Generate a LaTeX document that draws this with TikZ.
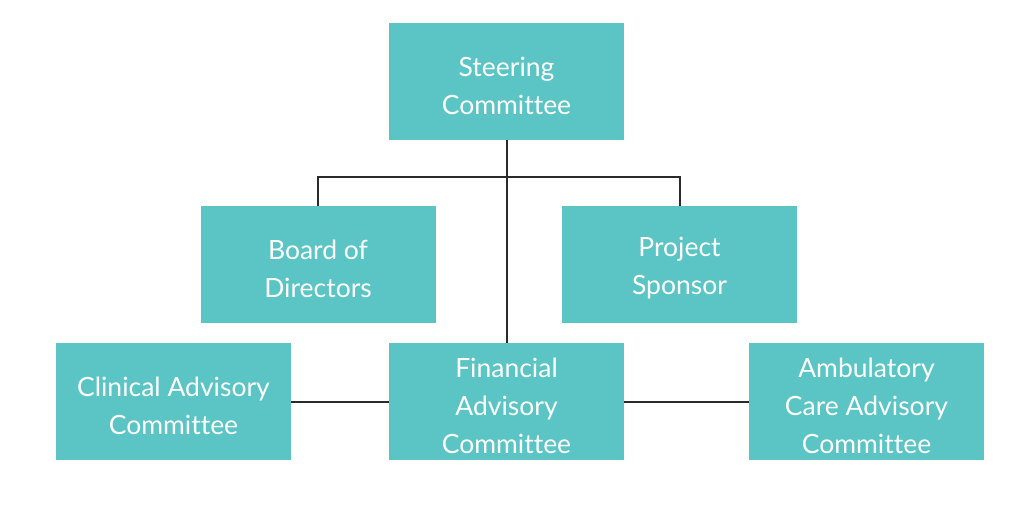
\documentclass[tikz,border=0pt]{standalone}
\usepackage{fontspec}
\setmainfont{Lato}[Ligatures=NoCommon]
\definecolor{teal}{HTML}{5BC5C6}
\definecolor{linec}{HTML}{2A2A2A}
\begin{document}
\begin{tikzpicture}[x=1pt,y=-1pt,
  box/.style={fill=teal,draw=none,minimum width=235pt,minimum height=117pt,inner sep=0pt},
  lbl/.style={text=white,align=center,inner sep=0pt,font=\fontsize{26.5}{38}\selectfont},
  conn/.style={draw=linec,line width=2pt}]
\useasboundingbox[fill=white] (0,0) rectangle (1024,525);
\node[box] (steer) at (506.5,81.5) {};
\node[box] (board) at (318,264.5) {};
\node[box] (spons) at (679.5,264.5) {};
\node[box] (clin) at (173.5,401.5) {};
\node[box] (fin) at (506.5,401.5) {};
\node[box] (amb) at (866.5,401.5) {};
\node[lbl] (tsteer) at ([yshift=-4pt]steer.center) {Steering\\Committee};
\node[lbl] (tboard) at ([yshift=-4pt]board.center) {Board of\\Directors};
\node[lbl] (tspons) at ([yshift=-4pt]spons.center) {Project\\Sponsor};
\node[lbl] (tclin) at ([yshift=-4pt]clin.center) {Clinical Advisory\\Committee};
\node[lbl] (tfin) at ([yshift=-4pt]fin.center) {Financial\\Advisory\\Committee};
\node[lbl] (tamb) at ([yshift=-4pt]amb.center) {Ambulatory\\Care Advisory\\Committee};
\coordinate (j) at (506.5,176.5);
\draw[conn] (steer.south) -- (fin.north);
\draw[conn] (board.north) |- (j) -| (spons.north);
\draw[conn] (clin.east) -- (fin.west);
\draw[conn] (fin.east) -- (amb.west);
\end{tikzpicture}
\end{document}
